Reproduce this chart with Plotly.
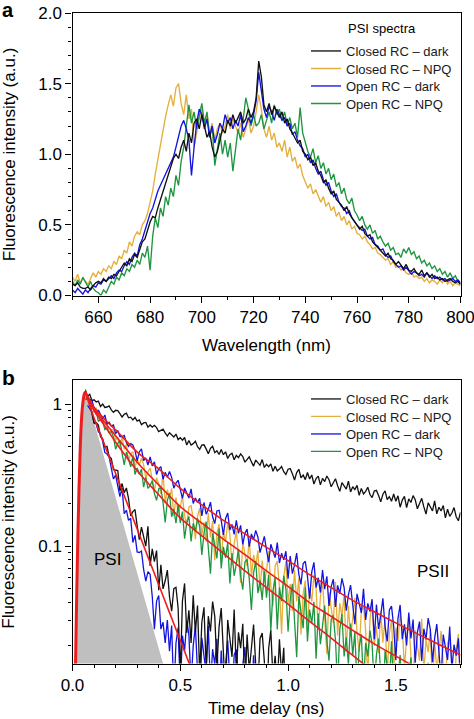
import numpy as np
import plotly.graph_objects as go

FONT = "Liberation Sans, Arial, Helvetica, sans-serif"
W, H = 474, 719

# ---------------- Panel a: PSI emission spectra (650..800 nm, 1 nm steps) ----------------
wl_start, wl_step = 650, 1
spec_closed_dark = [
    0.08, 0.07, 0.09, 0.06, 0.05, 0.05, 0.06, 0.04, 0.07, 0.09, 0.10,
    0.09, 0.12, 0.10, 0.13, 0.12, 0.15, 0.14, 0.17, 0.20, 0.23,
    0.21, 0.26, 0.24, 0.29, 0.27, 0.33, 0.38, 0.40, 0.47, 0.52,
    0.56, 0.55, 0.62, 0.68, 0.74, 0.80, 0.86, 0.92, 0.97, 1.00,
    0.97, 1.05, 1.10, 1.02, 1.15, 1.08, 1.22, 1.25, 1.18, 1.28,
    1.20, 1.12, 1.16, 1.05, 0.98, 1.02, 1.10, 1.18, 1.15, 1.24,
    1.20, 1.28, 1.22, 1.26, 1.30, 1.22, 1.25, 1.32, 1.26, 1.30,
    1.40, 1.66, 1.55, 1.35, 1.30, 1.36, 1.28, 1.34, 1.30, 1.26,
    1.30, 1.22, 1.25, 1.18, 1.15, 1.12, 1.08, 1.10, 1.02, 1.00,
    0.96, 0.98, 0.92, 0.94, 0.88, 0.85, 0.80, 0.82, 0.76, 0.72,
    0.74, 0.68, 0.66, 0.64, 0.60, 0.63, 0.58, 0.55, 0.52, 0.50,
    0.47, 0.49, 0.44, 0.42, 0.43, 0.38, 0.36, 0.34, 0.32, 0.30,
    0.28, 0.30, 0.26, 0.25, 0.22, 0.24, 0.21, 0.19, 0.22, 0.18,
    0.17, 0.19, 0.16, 0.15, 0.18, 0.14, 0.16, 0.13, 0.15, 0.12,
    0.13, 0.11, 0.12, 0.10, 0.11, 0.12, 0.10, 0.09, 0.10, 0.08]
spec_closed_npq = [
    0.13, 0.10, 0.15, 0.09, 0.12, 0.10, 0.08, 0.12, 0.16, 0.13, 0.17,
    0.15, 0.19, 0.17, 0.21, 0.19, 0.24, 0.22, 0.28, 0.26, 0.32,
    0.30, 0.38, 0.35, 0.42, 0.45, 0.43, 0.50, 0.53, 0.58, 0.65,
    0.74, 0.86, 0.96, 1.08, 1.18, 1.27, 1.35, 1.42, 1.34, 1.47,
    1.50, 1.36, 1.28, 1.42, 1.25, 1.32, 1.05, 1.15, 1.25, 1.32,
    1.20, 1.28, 1.15, 1.22, 1.10, 1.18, 1.22, 1.15, 1.20, 1.28,
    1.18, 1.25, 1.20, 1.15, 1.22, 1.12, 1.18, 1.25, 1.15, 1.20,
    1.30, 1.42, 1.32, 1.18, 1.12, 1.20, 1.10, 1.15, 1.05, 1.08,
    1.02, 1.10, 0.98, 1.05, 0.95, 0.98, 0.90, 0.93, 0.85, 0.80,
    0.76, 0.79, 0.72, 0.75, 0.70, 0.66, 0.70, 0.63, 0.66, 0.60,
    0.63, 0.56, 0.59, 0.53, 0.56, 0.50, 0.53, 0.47, 0.49, 0.44,
    0.43, 0.40, 0.42, 0.38, 0.36, 0.33, 0.34, 0.30, 0.29, 0.27,
    0.25, 0.26, 0.22, 0.24, 0.20, 0.21, 0.18, 0.19, 0.16, 0.15,
    0.17, 0.13, 0.14, 0.12, 0.13, 0.10, 0.12, 0.09, 0.11, 0.10,
    0.08, 0.11, 0.09, 0.12, 0.08, 0.10, 0.07, 0.09, 0.08, 0.07]
spec_open_dark = [
    0.04, 0.02, 0.05, 0.03, 0.01, 0.04, 0.02, 0.05, 0.07, 0.06, 0.09,
    0.08, 0.11, 0.10, 0.12, 0.14, 0.12, 0.16, 0.18, 0.17, 0.21,
    0.24, 0.22, 0.27, 0.30, 0.28, 0.36, 0.40, 0.46, 0.52, 0.58,
    0.62, 0.68, 0.74, 0.78, 0.82, 0.86, 0.90, 0.94, 0.98, 1.05,
    1.12, 1.20, 1.24, 1.18, 1.10, 0.85, 1.05, 1.22, 1.32, 1.28,
    1.18, 1.25, 1.12, 1.20, 1.08, 1.14, 1.22, 1.18, 1.28, 1.22,
    1.26, 1.18, 1.24, 1.20, 1.28, 1.16, 1.20, 1.26, 1.22, 1.28,
    1.38, 1.58, 1.45, 1.32, 1.26, 1.34, 1.30, 1.24, 1.32, 1.28,
    1.24, 1.26, 1.20, 1.22, 1.14, 1.16, 1.10, 1.06, 1.04, 0.98,
    1.00, 0.94, 0.96, 0.90, 0.86, 0.88, 0.82, 0.78, 0.80, 0.74,
    0.70, 0.72, 0.66, 0.63, 0.62, 0.58, 0.60, 0.55, 0.52, 0.50,
    0.48, 0.46, 0.47, 0.42, 0.40, 0.41, 0.36, 0.35, 0.32, 0.33,
    0.29, 0.27, 0.28, 0.24, 0.22, 0.20, 0.21, 0.18, 0.20, 0.17,
    0.15, 0.17, 0.16, 0.14, 0.15, 0.13, 0.16, 0.14, 0.12, 0.14,
    0.12, 0.13, 0.11, 0.12, 0.10, 0.11, 0.12, 0.10, 0.11, 0.09]
spec_open_npq = [
    0.10, 0.07, 0.11, 0.08, 0.13, 0.09, 0.06, 0.10, 0.05, 0.03, 0.02,
    0.00, 0.04, 0.02, 0.06, 0.10, 0.08, 0.13, 0.11, 0.16, 0.14,
    0.19, 0.17, 0.22, 0.20, 0.25, 0.22, 0.30, 0.27, 0.35, 0.18,
    0.42, 0.55, 0.48, 0.62, 0.56, 0.70, 0.64, 0.76, 0.70, 0.85,
    0.78, 0.95, 1.05, 1.20, 1.35, 1.22, 1.30, 1.18, 1.28, 1.36,
    1.22, 1.30, 1.12, 1.20, 0.92, 1.05, 1.15, 1.00, 1.10, 0.98,
    1.08, 0.88, 1.02, 1.18, 1.10, 1.25, 1.40, 1.32, 1.20, 1.28,
    1.20, 1.22, 1.28, 1.18, 1.24, 1.30, 1.22, 1.35, 1.28, 1.32,
    1.24, 1.30, 1.20, 1.26, 1.18, 1.22, 1.12, 1.33, 1.15, 1.08,
    1.02, 0.98, 1.04, 0.94, 0.99, 0.90, 0.94, 0.86, 0.90, 0.82,
    0.86, 0.77, 0.80, 0.72, 0.76, 0.68, 0.65, 0.69, 0.60, 0.57,
    0.53, 0.56, 0.50, 0.47, 0.50, 0.44, 0.46, 0.40, 0.42, 0.38,
    0.35, 0.37, 0.32, 0.34, 0.29, 0.30, 0.27, 0.33, 0.30, 0.34,
    0.29, 0.31, 0.26, 0.28, 0.23, 0.25, 0.21, 0.23, 0.19, 0.21,
    0.17, 0.19, 0.15, 0.17, 0.13, 0.16, 0.12, 0.14, 0.10, 0.08]

# ---------------- Panel b: fluorescence decays (0.01 ns bins) ----------------
t_step = 0.01
psii_t0 = 0.06
psii_closed_dark = [
    1.20, 1.14, 1.173, 1.06, 1.073, 1.035, 1.051, 0.963, 1.00, 0.948,
    0.955, 0.973, 0.911, 0.876, 0.906, 0.901, 0.859, 0.812, 0.848, 0.863,
    0.802, 0.81, 0.774, 0.807, 0.76, 0.775, 0.717, 0.738, 0.743, 0.689,
    0.714, 0.69, 0.71, 0.684, 0.64, 0.656, 0.666, 0.627, 0.596, 0.629,
    0.608, 0.587, 0.616, 0.563, 0.581, 0.558, 0.582, 0.515, 0.554, 0.515,
    0.527, 0.549, 0.501, 0.481, 0.514, 0.517, 0.484, 0.448, 0.488, 0.505,
    0.455, 0.469, 0.442, 0.479, 0.441, 0.462, 0.414, 0.44, 0.451, 0.406,
    0.436, 0.42, 0.446, 0.427, 0.39, 0.411, 0.426, 0.392, 0.366, 0.404,
    0.388, 0.371, 0.407, 0.358, 0.377, 0.363, 0.38, 0.337, 0.365, 0.339,
    0.349, 0.364, 0.334, 0.32, 0.348, 0.352, 0.324, 0.292, 0.33, 0.348,
    0.303, 0.317, 0.294, 0.33, 0.297, 0.317, 0.274, 0.299, 0.311, 0.27,
    0.30, 0.285, 0.312, 0.294, 0.262, 0.282, 0.298, 0.266, 0.243, 0.28,
    0.266, 0.252, 0.287, 0.241, 0.262, 0.25, 0.268, 0.228, 0.255, 0.233,
    0.243, 0.26, 0.231, 0.22, 0.244, 0.247, 0.227, 0.205, 0.232, 0.245,
    0.213, 0.223, 0.207, 0.233, 0.207, 0.226, 0.188, 0.211, 0.224, 0.187,
    0.215, 0.203, 0.227, 0.212, 0.183, 0.202, 0.217, 0.189, 0.168, 0.202,
    0.189, 0.177, 0.208, 0.169, 0.188, 0.177, 0.193, 0.158, 0.182, 0.162,
    0.171, 0.187, 0.161, 0.151, 0.173]
psii_closed_npq = [
    1.26, 1.05, 1.085, 0.954, 0.93, 0.94, 0.83, 0.768, 0.797, 0.773,
    0.701, 0.628, 0.66, 0.665, 0.557, 0.584, 0.50, 0.588, 0.481, 0.523,
    0.396, 0.447, 0.463, 0.356, 0.411, 0.373, 0.417, 0.374, 0.301, 0.334,
    0.355, 0.291, 0.244, 0.303, 0.274, 0.233, 0.323, 0.201, 0.25, 0.217,
    0.255, 0.163, 0.22, 0.17, 0.19, 0.224, 0.164, 0.141, 0.188, 0.193,
    0.155, 0.112, 0.162, 0.185, 0.119, 0.147, 0.107, 0.171, 0.115, 0.151,
    0.0797, 0.123, 0.143, 0.0789, 0.127, 0.107, 0.146, 0.121, 0.0736, 0.104,
    0.128, 0.0848, 0.055, 0.107, 0.0889, 0.0719, 0.116, 0.0606, 0.0866, 0.0727,
    0.0935, 0.0482, 0.0792, 0.0553, 0.067, 0.0923, 0.0525, 0.0378, 0.0726, 0.0785,
    0.0519, 0.0241, 0.0605, 0.0784, 0.0395, 0.0541, 0.035, 0.0681, 0.0408, 0.0597,
    0.0239, 0.0464, 0.0572, 0.0252, 0.0507, 0.0407, 0.0625, 0.0506, 0.0257, 0.0436,
    0.0568, 0.0339, 0.0174, 0.0472, 0.0381, 0.0287, 0.056, 0.0235, 0.0397, 0.032,
    0.0454, 0.018, 0.038, 0.0231, 0.031, 0.0433, 0.0246, 0.018, 0.0351, 0.0379,
    0.0255, 0.0119, 0.0304, 0.0394, 0.0198, 0.0272, 0.0177, 0.0348, 0.0209, 0.0309,
    0.0125, 0.0243, 0.0303, 0.0133, 0.0266, 0.0215, 0.0331, 0.0268, 0.0136, 0.0229,
    0.0302, 0.018, 0.0093, 0.0255, 0.0206, 0.0156, 0.0308, 0.013, 0.0221, 0.0179,
    0.0256, 0.0102, 0.0217, 0.0133, 0.018, 0.0253, 0.0144, 0.0106, 0.0208, 0.0226,
    0.0153, 0.0071, 0.0184, 0.024, 0.0122]
psii_open_dark = [
    1.24, 1.08, 1.08, 1.07, 0.935, 0.845, 0.91, 0.843, 0.787, 0.839,
    0.722, 0.745, 0.70, 0.713, 0.62, 0.652, 0.592, 0.592, 0.603, 0.538,
    0.504, 0.527, 0.517, 0.471, 0.399, 0.461, 0.485, 0.40, 0.418, 0.373,
    0.425, 0.367, 0.393, 0.32, 0.352, 0.363, 0.296, 0.331, 0.306, 0.335,
    0.305, 0.256, 0.278, 0.291, 0.248, 0.217, 0.257, 0.237, 0.218, 0.253,
    0.20, 0.218, 0.203, 0.217, 0.163, 0.203, 0.168, 0.181, 0.204, 0.161,
    0.144, 0.177, 0.179, 0.151, 0.120, 0.156, 0.171, 0.13, 0.142, 0.121,
    0.152, 0.123, 0.14, 0.103, 0.123, 0.132, 0.099, 0.122, 0.111, 0.129,
    0.116, 0.090, 0.105, 0.117, 0.094, 0.077, 0.103, 0.093, 0.083, 0.106,
    0.076, 0.089, 0.080, 0.092, 0.059, 0.085, 0.064, 0.0738, 0.0894, 0.0633,
    0.0538, 0.0754, 0.0782, 0.0612, 0.0427, 0.0659, 0.0768, 0.0511, 0.0599, 0.0471,
    0.0678, 0.0497, 0.0613, 0.0379, 0.0519, 0.0585, 0.0373, 0.0529, 0.0462, 0.0593,
    0.0511, 0.0351, 0.0454, 0.0531, 0.0387, 0.0282, 0.0461, 0.0399, 0.0339, 0.05,
    0.0302, 0.0395, 0.0346, 0.0423, 0.0221, 0.0388, 0.0261, 0.0327, 0.0429, 0.027,
    0.0213, 0.0355, 0.0378, 0.0272, 0.0157, 0.031, 0.0385, 0.0221, 0.0281, 0.02,
    0.034, 0.0224, 0.0304, 0.0151, 0.0247, 0.0294, 0.0155, 0.0262, 0.022, 0.0311,
    0.0259, 0.0152, 0.0225, 0.0282, 0.0184, 0.0114, 0.0238, 0.0198, 0.0158, 0.0271,
    0.0135, 0.0202, 0.0169, 0.0224, 0.0109]
psii_open_npq = [
    1.27, 1.12, 0.989, 1.01, 0.882, 0.881, 0.758, 0.773, 0.764, 0.661,
    0.681, 0.63, 0.641, 0.588, 0.482, 0.529, 0.556, 0.45, 0.373, 0.459,
    0.409, 0.362, 0.433, 0.32, 0.355, 0.321, 0.348, 0.26, 0.305, 0.255,
    0.267, 0.289, 0.234, 0.21, 0.254, 0.257, 0.203, 0.147, 0.209, 0.236,
    0.161, 0.182, 0.145, 0.196, 0.146, 0.175, 0.113, 0.147, 0.162, 0.108,
    0.145, 0.127, 0.157, 0.137, 0.0868, 0.123, 0.149, 0.0994, 0.064, 0.123,
    0.102, 0.082, 0.133, 0.0697, 0.0988, 0.0827, 0.106, 0.0546, 0.0894, 0.0618,
    0.075, 0.0955, 0.0616, 0.0493, 0.0773, 0.0807, 0.0588, 0.0355, 0.0647, 0.0784,
    0.0466, 0.0574, 0.0417, 0.0669, 0.0434, 0.0631, 0.0252, 0.0485, 0.0595, 0.0259,
    0.0512, 0.0409, 0.0619, 0.0496, 0.025, 0.0416, 0.0542, 0.0322, 0.0165, 0.0445,
    0.0352, 0.0264, 0.0512, 0.0213, 0.0357, 0.0286, 0.0405, 0.0161, 0.0337, 0.0204,
    0.0274, 0.0381, 0.0215, 0.0156, 0.0303, 0.0326, 0.0218, 0.0101, 0.0258, 0.0333,
    0.0167, 0.0228, 0.0147, 0.0285, 0.017, 0.0249, 0.010, 0.0194, 0.0239, 0.0104,
    0.0208, 0.0167, 0.0254, 0.0203, 0.0102, 0.0171, 0.0223, 0.0133, 0.0068, 0.0184,
    0.0146, 0.011, 0.0214, 0.0089, 0.015, 0.012, 0.0171, 0.0068, 0.0144, 0.0088,
    0.0118, 0.0165, 0.0093, 0.0068, 0.0133, 0.0144, 0.0097, 0.0045, 0.0116, 0.0151,
    0.0077, 0.0105, 0.0069, 0.0133, 0.0081, 0.0119, 0.0048, 0.0094, 0.0117, 0.0051,
    0.0103, 0.0083, 0.0127, 0.0103, 0.0052]

psi_closed_dark_t0 = 0.06
psi_closed_dark = [
    1.09, 1.08, 1.01, 0.869, 0.739, 0.742, 0.713, 0.59, 0.57, 0.499,
    0.505, 0.431, 0.414, 0.346, 0.343, 0.341, 0.245, 0.276, 0.238, 0.257,
    0.216, 0.163, 0.175, 0.181, 0.139, 0.111, 0.136, 0.117, 0.10, 0.138,
    0.0725, 0.0957, 0.0778, 0.093, 0.049, 0.0739, 0.05, 0.057, 0.0678, 0.044,
    0.0348, 0.0502, 0.0512, 0.0367, 0.0124, 0.041, 0.0546, 0.0245, 0.0353, 0.0208,
    0.0451, 0.0248, 0.0381, 0.0125, 0.029, 0.0371, 0.0138, 0.0321, 0.0251, 0.0407,
    0.032, 0.0142, 0.0271, 0.0366, 0.0206, 0.0087, 0.0302, 0.0233, 0.0166, 0.0358,
    0.0129, 0.0247, 0.0191, 0.0284, 0.0095, 0.0238, 0.0133, 0.0191, 0.028, 0.0146,
    0.0099, 0.0223, 0.0244, 0.0155, 0.0057, 0.019, 0.0256, 0.0116, 0.0169, 0.0101,
    0.0221, 0.0123, 0.0192, 0.0063, 0.0145]
psi_open_dark_t0 = 0.07
psi_open_dark = [
    0.98, 0.934, 0.884, 0.736, 0.727, 0.637, 0.619, 0.547, 0.457, 0.445,
    0.424, 0.354, 0.297, 0.316, 0.268, 0.223, 0.256, 0.169, 0.179, 0.152,
    0.157, 0.106, 0.119, 0.091, 0.09, 0.0923, 0.0686, 0.0566, 0.0661, 0.0634,
    0.0442, 0.026, 0.041, 0.0449, 0.026, 0.0291, 0.0208, 0.0302, 0.0182, 0.0276,
    0.009, 0.0207, 0.0267, 0.0099, 0.0234, 0.0183, 0.030, 0.0237, 0.0106, 0.0199,
    0.0271, 0.0151, 0.0064, 0.0226, 0.0176, 0.0126, 0.0275, 0.010, 0.0188, 0.0147,
    0.0222, 0.0073, 0.0184, 0.0103, 0.0147, 0.0216, 0.0112, 0.0076, 0.0171, 0.0187,
    0.0119, 0.0044, 0.0146, 0.0195, 0.0089, 0.0129, 0.0077, 0.017, 0.0095, 0.0149,
    0.0049, 0.0113, 0.0144, 0.0054]

# instrument-limited rise (shared by all fits)
rise_t = [0.010, 0.015, 0.020, 0.025, 0.030, 0.035, 0.040, 0.045, 0.050, 0.055, 0.060]
rise_y = [0.006, 0.018, 0.050, 0.120, 0.250, 0.450, 0.700, 0.920, 1.080, 1.180, 1.220]

# PSII fits
fit_t = [0.06, 0.08, 0.10, 0.15, 0.20, 0.30, 0.40, 0.50, 0.60, 0.70, 0.80, 0.90, 1.00,
         1.10, 1.20, 1.30, 1.40, 1.50, 1.60, 1.70, 1.80]
fit_open_dark = [1.22, 1.07, 0.95, 0.78, 0.66, 0.46, 0.35, 0.255, 0.195, 0.152, 0.122,
                 0.098, 0.079, 0.063, 0.051, 0.0415, 0.0345, 0.0288, 0.0241, 0.0203, 0.0171]
fit_closed_npq = [1.22, 1.06, 0.93, 0.74, 0.60, 0.39, 0.27, 0.19, 0.145, 0.112, 0.087,
                  0.067, 0.052, 0.040, 0.032, 0.0255, 0.0205, 0.0168, 0.0138, 0.0113, 0.0093]
fit_open_npq = [1.22, 1.03, 0.90, 0.70, 0.54, 0.34, 0.23, 0.158, 0.118, 0.089, 0.067,
                0.051, 0.039, 0.0295, 0.0225, 0.017, 0.0129, 0.0098, 0.0075, 0.0057, 0.0044]

# PSI fit
psi_fit_t = [0.06, 0.08, 0.10, 0.15, 0.20, 0.25, 0.30, 0.35, 0.40, 0.45, 0.50, 0.55, 0.60]
psi_fit_y = [1.22, 0.98, 0.80, 0.51, 0.325, 0.207, 0.132, 0.084, 0.0535, 0.034, 0.0217,
             0.0138, 0.0088]

# PSI component (grey area), upper edge after the rise
psi_area_t = [0.06, 0.08, 0.10, 0.12, 0.14, 0.16, 0.18, 0.20, 0.22, 0.24, 0.26, 0.28,
              0.30, 0.32, 0.34, 0.36, 0.38, 0.40, 0.42, 0.44]
psi_area_y = [1.22, 0.955, 0.748, 0.586, 0.459, 0.359, 0.281, 0.22, 0.172, 0.135, 0.106,
              0.083, 0.065, 0.051, 0.040, 0.031, 0.0243, 0.019, 0.0149, 0.0117]
AREA_FLOOR = 1e-3

# ---------------- styles ----------------
C_BLACK = "#111111"
C_YELLOW = "#E6AE3C"
C_BLUE = "#1414E0"
C_GREEN = "#1E9640"
C_RED = "#EE1C1C"
C_GREY = "#BFBFBF"

names = ["Closed RC \u2013 dark", "Closed RC \u2013 NPQ", "Open RC \u2013 dark", "Open RC \u2013 NPQ"]


def grid(t0, step, vals):
    return t0 + step * np.arange(len(vals))


fig = go.Figure()

# ---- panel a traces (draw order: yellow, green, blue, black) ----
spec = {0: spec_closed_dark, 1: spec_closed_npq, 2: spec_open_dark, 3: spec_open_npq}
cols = [C_BLACK, C_YELLOW, C_BLUE, C_GREEN]
for i in [1, 3, 2, 0]:
    fig.add_trace(go.Scatter(
        x=grid(wl_start, wl_step, spec[i]), y=spec[i], mode="lines",
        line=dict(color=cols[i], width=1.35), name=names[i],
        legend="legend" if i == 0 else f"legend{i + 1}",
        xaxis="x", yaxis="y"))

# ---- panel b traces ----
area_x = list(rise_t) + list(psi_area_t) + [psi_area_t[-1], rise_t[0]]
area_y = list(rise_y) + list(psi_area_y) + [AREA_FLOOR, AREA_FLOOR]
fig.add_trace(go.Scatter(x=area_x, y=area_y, mode="lines", fill="toself",
                         fillcolor=C_GREY, line=dict(width=0, color=C_GREY),
                         showlegend=False, xaxis="x2", yaxis="y2"))

fig.add_trace(go.Scatter(x=grid(psi_open_dark_t0, t_step, psi_open_dark), y=psi_open_dark,
                         mode="lines", line=dict(color=C_BLUE, width=1.3),
                         showlegend=False, xaxis="x2", yaxis="y2"))
fig.add_trace(go.Scatter(x=grid(psi_closed_dark_t0, t_step, psi_closed_dark), y=psi_closed_dark,
                         mode="lines", line=dict(color=C_BLACK, width=1.3),
                         showlegend=False, xaxis="x2", yaxis="y2"))

psii = {0: psii_closed_dark, 1: psii_closed_npq, 2: psii_open_dark, 3: psii_open_npq}
for i in [0, 1, 3, 2]:
    fig.add_trace(go.Scatter(
        x=grid(psii_t0, t_step, psii[i]), y=psii[i], mode="lines",
        line=dict(color=cols[i], width=1.3), name=names[i],
        legend=f"legend{i + 5}", xaxis="x2", yaxis="y2"))

for fy in [fit_open_dark, fit_closed_npq, fit_open_npq]:
    fig.add_trace(go.Scatter(x=fit_t, y=fy, mode="lines", line=dict(color=C_RED, width=1.6, shape="spline"),
                             showlegend=False, xaxis="x2", yaxis="y2"))
fig.add_trace(go.Scatter(x=psi_fit_t, y=psi_fit_y, mode="lines",
                         line=dict(color=C_RED, width=1.6, shape="spline"),
                         showlegend=False, xaxis="x2", yaxis="y2"))
fig.add_trace(go.Scatter(x=rise_t, y=rise_y, mode="lines",
                         line=dict(color=C_RED, width=3, shape="spline"),
                         showlegend=False, xaxis="x2", yaxis="y2"))

# ---------------- layout ----------------
def px_x(p):
    return p / W


def px_y(p):
    return 1 - p / H


XD = [px_x(72.5), px_x(460.5)]
YD_A = [px_y(295.5), px_y(13)]
YD_B = [px_y(663.5), px_y(380)]

tickfont = dict(size=17, color="black", family=FONT)
base = dict(showline=True, linecolor="black", linewidth=1.2, mirror=True,
            ticks="outside", ticklen=6, tickwidth=1.2, tickcolor="black",
            showgrid=False, zeroline=False, tickfont=tickfont, automargin=False,
            ticklabeloverflow="allow")
minor_base = dict(ticks="outside", ticklen=3, tickwidth=1, tickcolor="black", showgrid=False)

layout = dict(
    width=W, height=H, margin=dict(l=0, r=0, t=0, b=0, pad=0, autoexpand=False),
    paper_bgcolor="white", plot_bgcolor="white",
    font=dict(family=FONT, color="black"),
    xaxis=dict(base, domain=XD, anchor="y", range=[650, 800],
               tickmode="array", tickvals=[660, 680, 700, 720, 740, 760, 780, 800],
               minor=dict(minor_base, dtick=10, tick0=0)),
    yaxis=dict(base, domain=YD_A, anchor="x", range=[0, 2.0], dtick=0.5, tickformat=".1f",
               minor=dict(minor_base, dtick=0.1, tick0=0)),
    xaxis2=dict(base, domain=XD, anchor="y2", range=[0, 1.8], dtick=0.5, tickformat=".1f",
                minor=dict(minor_base, dtick=0.1, tick0=0)),
    yaxis2=dict(base, domain=YD_B, anchor="x2", type="log",
                range=[np.log10(0.0149), np.log10(1.48)],
                tickmode="array", tickvals=[0.1, 1], ticktext=["0.1", "1"],
                minor=dict(minor_base, tickmode="array",
                           tickvals=[0.02, 0.03, 0.04, 0.05, 0.06, 0.07, 0.08, 0.09,
                                     0.2, 0.3, 0.4, 0.5, 0.6, 0.7, 0.8, 0.9])),
)

leg_font = dict(size=13, family=FONT, color="#1a1a1a")
rows_a = [51, 68.5, 86, 103.5]
rows_b = [399, 416.5, 434, 451.5]
for k in range(8):
    key = "legend" if k == 0 else f"legend{k + 1}"
    ypx = rows_a[k] if k < 4 else rows_b[k - 4]
    layout[key] = dict(x=px_x(306), y=px_y(ypx), xanchor="left", yanchor="middle",
                       bgcolor="rgba(0,0,0,0)", borderwidth=0, font=leg_font,
                       itemwidth=30)

ann = []
def add_text(text, xp, yp, size=17, angle=0, xanchor="center", bold=False):
    ann.append(dict(text=f"<b>{text}</b>" if bold else text, x=px_x(xp), y=px_y(yp),
                    xref="paper", yref="paper", showarrow=False, textangle=angle,
                    xanchor=xanchor, yanchor="middle",
                    font=dict(size=size, family=FONT, color="black")))

add_text("Fluorescence intensity (a.u.)", 9, (13 + 295.5) / 2, angle=-90)
add_text("Fluorescence intensity (a.u.)", 9, (380 + 663.5) / 2, angle=-90)
add_text("Wavelength (nm)", 266, 345)
add_text("Time delay (ns)", 266, 708)
add_text("PSI spectra", 346, 29, size=13, xanchor="left")
add_text("a", 0, 10, size=20, xanchor="left", bold=True)
add_text("b", 0, 377.5, size=21, xanchor="left", bold=True)

# PSI / PSII labels placed in data coordinates of panel b
ann.append(dict(text="PSI", x=0.161, y=np.log10(0.080), xref="x2", yref="y2", showarrow=False,
                font=dict(size=17, family=FONT, color="black")))
ann.append(dict(text="PSII", x=1.673, y=np.log10(0.0667), xref="x2", yref="y2", showarrow=False,
                font=dict(size=17, family=FONT, color="black")))
layout["annotations"] = ann

fig.update_layout(**layout)
fig.write_html("out.html")
